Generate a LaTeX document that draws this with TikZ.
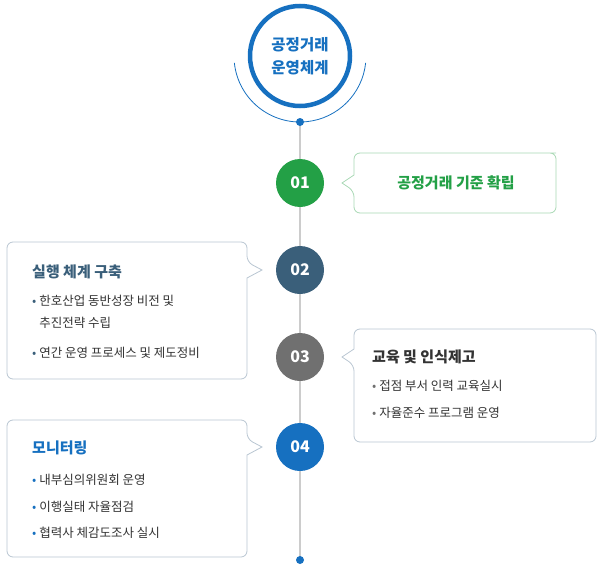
\documentclass[tikz,border=0pt]{standalone}
\usepackage{fontspec}
\setmainfont{Noto Sans CJK KR}
\usetikzlibrary{calc}
\definecolor{mainblue}{HTML}{1670C0}
\definecolor{stepgreen}{HTML}{23A046}
\definecolor{stepnavy}{HTML}{3A5F7A}
\definecolor{stepgray}{HTML}{707070}
\definecolor{boxline}{HTML}{B9C6D2}
\definecolor{greenline}{HTML}{A8D8B4}
\definecolor{bodytext}{HTML}{333333}
\tikzset{
  stepdot/.style={circle,minimum size=48pt,inner sep=0pt,text=white,font=\bfseries\fontsize{16pt}{16pt}\selectfont},
  boxtitle/.style={anchor=west,inner sep=0pt,font=\bfseries\fontsize{15pt}{17pt}\selectfont},
  item/.style={anchor=west,inner sep=0pt,text=bodytext,font=\fontsize{12.5pt}{22pt}\selectfont,align=left},
  bubble/.style={draw=boxline,fill=white,rounded corners=6pt,line width=0.8pt}
}
\begin{document}
\begin{tikzpicture}[x=1pt,y=-1pt]
\useasboundingbox (0,0) rectangle (604,567);
% timeline
\draw[line width=1.5pt,black!20] (300,122) -- (300,560);
\fill[mainblue] (300,122) circle (4);
\fill[mainblue] (300,560) circle (4);
% head
\draw[mainblue,line width=4.5pt,fill=white] (300,56) circle (50);
\draw[mainblue,line width=0.8pt] (300,56) ++(174:66) arc[start angle=174,end angle=6,radius=66];
\node[mainblue,align=center,font=\bfseries\fontsize{15.5pt}{23pt}\selectfont] (head) at (300,56) {공정거래\\운영체계};
% steps
\node[stepdot,fill=stepgreen] (s1) at (300,183) {01};
\node[stepdot,fill=stepnavy] (s2) at (300,270) {02};
\node[stepdot,fill=stepgray] (s3) at (300,357) {03};
\node[stepdot,fill=mainblue] (s4) at (300,447) {04};
% box 1
\draw[bubble,draw=greenline] (354,153) -- (550,153) -- (556,153) -- (556,213) -- (354,213) -- (354,191) [sharp corners] -- (342,183) -- (354,175) [rounded corners=6pt] -- cycle;
\node[text=stepgreen,font=\bfseries\fontsize{15pt}{17pt}\selectfont] (t1) at (456,183) {공정거래 기준 확립};
% box 2
\draw[bubble] (7,242) -- (247,242) -- (247,262) [sharp corners] -- (262,270) -- (247,278) [rounded corners=6pt] -- (247,379) -- (7,379) -- cycle;
\node[boxtitle,text=stepnavy] (t2) at (32,272) {실행 체계 구축};
\node[item] (i21) at (32,312) {\textcolor{stepnavy}{•} 한호산업 동반성장 비전 및\\\phantom{•} 추진전략 수립};
\node[item] (i22) at (32,353) {\textcolor{stepnavy}{•} 연간 운영 프로세스 및 제도정비};
% box 3
\draw[bubble] (354,329) -- (596,329) -- (596,442) -- (354,442) -- (354,365) [sharp corners] -- (342,357) -- (354,349) [rounded corners=6pt] -- cycle;
\node[boxtitle,text=bodytext] (t3) at (372,357) {교육 및 인식제고};
\node[item] (i31) at (372,386) {\textcolor{stepgray}{•} 접점 부서 인력 교육실시};
\node[item] (i32) at (372,413) {\textcolor{stepgray}{•} 자율준수 프로그램 운영};
% box 4
\draw[bubble] (7,420) -- (247,420) -- (247,439) [sharp corners] -- (262,447) -- (247,455) [rounded corners=6pt] -- (247,557) -- (7,557) -- cycle;
\node[boxtitle,text=mainblue] (t4) at (32,448) {모니터링};
\node[item] (i41) at (32,480) {\textcolor{mainblue}{•} 내부심의위원회 운영};
\node[item] (i42) at (32,507) {\textcolor{mainblue}{•} 이행실태 자율점검};
\node[item] (i43) at (32,533) {\textcolor{mainblue}{•} 협력사 체감도조사 실시};
\end{tikzpicture}
\end{document}
